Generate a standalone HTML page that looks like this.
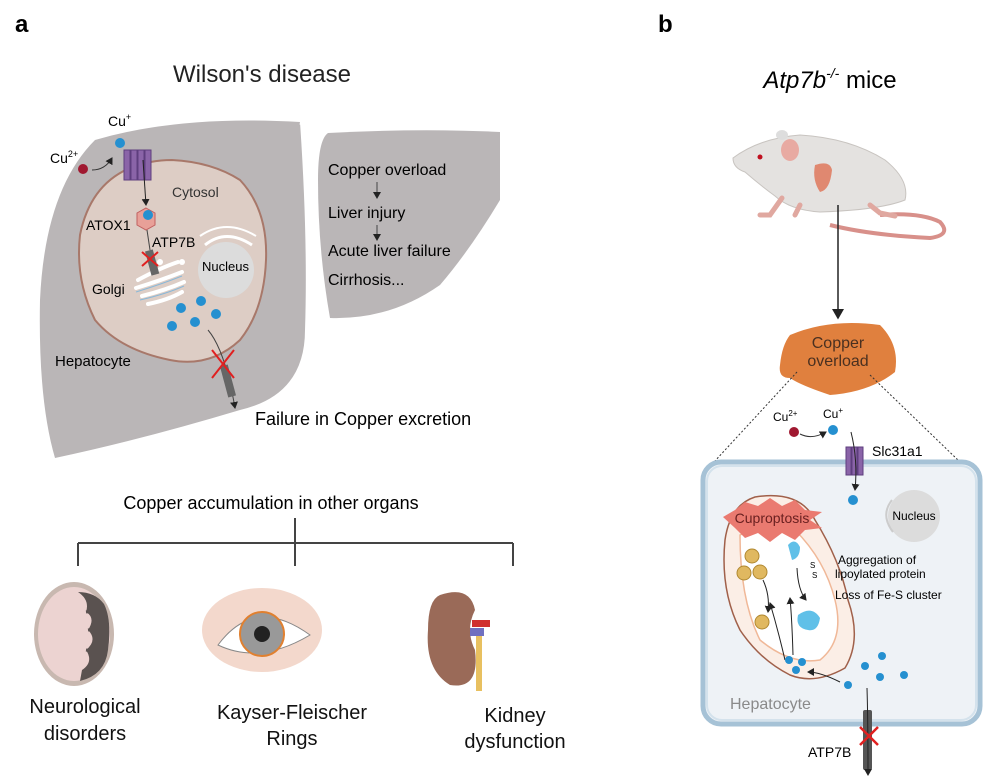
<!DOCTYPE html>
<html><head><meta charset="utf-8"><style>
html,body{margin:0;padding:0;background:#fff;}
svg{display:block;font-family:"Liberation Sans",sans-serif;}
</style></head><body>
<svg width="997" height="783" viewBox="0 0 997 783" xmlns="http://www.w3.org/2000/svg">
<defs>
<marker id="ah" markerWidth="8" markerHeight="8" refX="6" refY="4" orient="auto"><path d="M0,0 L7,4 L0,8 Z" fill="#222"/></marker>
</defs>
<text x="15" y="32" font-size="24" font-weight="bold">a</text>
<text x="658" y="32" font-size="24" font-weight="bold">b</text>
<text x="262" y="82" font-size="24" text-anchor="middle" fill="#222">Wilson's disease</text>

<path d="M95,140 Q180,115 300,122 Q308,240 305,330 Q305,395 240,410 Q140,440 55,458 Q38,400 40,300 Q45,190 95,140 Z" fill="#bab6b7"/>
<path d="M328,133 Q420,128 500,132 L500,200 Q470,250 440,285 Q390,320 330,318 Q318,250 318,180 Q318,140 328,133 Z" fill="#bab6b7"/>
<path d="M300,122 Q315,125 315,150 Q312,260 322,355" stroke="#fff" stroke-width="5" fill="none"/>

<path d="M172,160 Q212,162 240,180 Q268,210 266,260 Q264,310 240,340 Q210,368 170,360 Q120,350 95,320 Q75,280 80,235 Q90,185 130,168 Q150,160 172,160 Z" fill="#ddcdc5" stroke="#a8786a" stroke-width="2"/>
<circle cx="226" cy="270" r="28" fill="#dcdcdc"/>
<path d="M205,245 Q226,228 252,245" stroke="#fff" stroke-width="3" fill="none"/>
<path d="M200,236 Q226,218 256,236" stroke="#fff" stroke-width="2" fill="none"/>
<g stroke="#fff" stroke-width="4" fill="none" stroke-linecap="round">
<path d="M138,280 Q160,268 178,262"/><path d="M136,288 Q162,280 182,272"/><path d="M142,296 Q166,290 184,282"/><path d="M148,304 Q168,300 182,292"/>
</g>
<g stroke="#8ab8d8" stroke-width="1" fill="none"><path d="M136,292 Q162,284 182,276"/><path d="M140,300 Q166,294 184,286"/></g>
<circle cx="182" cy="262" r="3" fill="#fff"/><circle cx="160" cy="262" r="3" fill="#fff"/>
<rect x="148" y="250" width="8" height="25" fill="#666" transform="rotate(-15 152 262)"/>
<path d="M142,252 L158,266 M158,252 L142,266" stroke="#e02020" stroke-width="2"/>
<g fill="#8a64a8" stroke="#5e3e7e"><rect x="124" y="150" width="6" height="30"/><rect x="131" y="150" width="6" height="30"/><rect x="138" y="150" width="6" height="30"/><rect x="145" y="150" width="6" height="30"/></g>
<path d="M143,160 L146,205" stroke="#222" stroke-width="1" marker-end="url(#ah)"/>
<circle cx="120" cy="143" r="5" fill="#2590d0"/>
<circle cx="83" cy="169" r="5" fill="#a01830"/>
<path d="M92,170 Q105,170 112,158" stroke="#333" fill="none" marker-end="url(#ah)"/>
<text x="108" y="126" font-size="14">Cu<tspan dy="-6" font-size="9">+</tspan></text>
<text x="50" y="163" font-size="14">Cu<tspan dy="-6" font-size="9">2+</tspan></text>
<text x="172" y="197" font-size="14" fill="#333">Cytosol</text>
<path d="M146,208 L155,213 L155,225 L146,230 L137,225 L137,213 Z" fill="#e8a098" stroke="#c06060"/>
<circle cx="148" cy="215" r="5" fill="#2590d0"/>
<path d="M147,230 L150,250" stroke="#444"/>
<text x="86" y="230" font-size="14">ATOX1</text>
<text x="152" y="247" font-size="14">ATP7B</text>
<text x="202" y="271" font-size="13">Nucleus</text>
<text x="92" y="294" font-size="14">Golgi</text>
<g fill="#2590d0"><circle cx="181" cy="308" r="5"/><circle cx="201" cy="301" r="5"/><circle cx="216" cy="314" r="5"/><circle cx="172" cy="326" r="5"/><circle cx="195" cy="322" r="5"/></g>
<path d="M208,330 Q225,350 235,408" stroke="#444" fill="none" marker-end="url(#ah)"/>
<rect x="224" y="365" width="8" height="32" fill="#666" transform="rotate(-15 228 381)"/>
<path d="M212,350 L234,378 M234,350 L212,378" stroke="#e02020" stroke-width="2"/>
<text x="55" y="366" font-size="15">Hepatocyte</text>
<text x="328" y="175" font-size="16">Copper overload</text>
<path d="M377,182 L377,198" stroke="#444" marker-end="url(#ah)"/>
<text x="328" y="218" font-size="16">Liver injury</text>
<path d="M377,225 L377,240" stroke="#444" marker-end="url(#ah)"/>
<text x="328" y="256" font-size="16">Acute liver failure</text>
<text x="328" y="285" font-size="16">Cirrhosis...</text>
<text x="255" y="425" font-size="18">Failure in Copper excretion</text>

<text x="271" y="509" font-size="18" text-anchor="middle">Copper accumulation in other organs</text>
<g stroke="#444" stroke-width="2" fill="none"><path d="M295,518 V543 M78,543 H513 M78,543 V566 M295,543 V566 M513,543 V566"/></g>
<!-- brain -->
<ellipse cx="74" cy="634" rx="40" ry="52" fill="#c8b8b0"/>
<ellipse cx="74" cy="634" rx="36" ry="47" fill="#ecd3d1"/>
<path d="M78,592 Q90,600 86,612 Q96,618 88,630 Q98,640 86,650 Q94,662 82,670 L80,681 Q105,675 108,650 Q112,620 104,604 Q95,592 78,592 Z" fill="#5a5250"/>
<path d="M86,612 L100,610 M88,630 L104,628 M86,650 L100,652" stroke="#5a5250" stroke-width="3"/>
<!-- eye -->
<ellipse cx="262" cy="630" rx="60" ry="42" fill="#f3d8cc"/>
<path d="M218,645 Q255,595 310,635 Q260,665 218,645 Z" fill="#fff" stroke="#888"/>
<circle cx="262" cy="634" r="22" fill="#999" stroke="#e08030" stroke-width="2"/>
<circle cx="262" cy="634" r="8" fill="#222"/>
<!-- kidney -->
<path d="M440,595 Q470,585 475,610 Q465,630 475,650 Q480,690 450,685 Q425,670 428,630 Q428,600 440,595 Z" fill="#9a6a58"/>
<rect x="472" y="620" width="18" height="7" fill="#d03030"/>
<rect x="470" y="628" width="14" height="8" fill="#7070c0"/>
<rect x="476" y="636" width="6" height="55" fill="#e8c060"/>
<g font-size="20" text-anchor="middle" fill="#111">
<text x="85" y="713">Neurological</text><text x="85" y="740">disorders</text>
<text x="292" y="719">Kayser-Fleischer</text><text x="292" y="745">Rings</text>
<text x="515" y="722">Kidney</text><text x="515" y="748">dysfunction</text>
</g>

<!-- panel b -->
<text x="830" y="88" font-size="24" text-anchor="middle"><tspan font-style="italic">Atp7b</tspan><tspan font-size="14" dy="-10" font-style="italic">-/-</tspan><tspan dy="10"> mice</tspan></text>
<path d="M830,225 Q870,235 930,238 Q952,235 940,222 Q920,212 880,215" stroke="#d8908a" stroke-width="4" fill="none"/>
<path d="M733,158 Q760,138 800,135 Q850,138 885,160 Q910,180 905,200 Q880,210 820,212 Q790,210 775,196 Q760,185 745,172 Q733,168 733,158 Z" fill="#e4e2e0" stroke="#c8c4c0"/>
<ellipse cx="790" cy="150" rx="9" ry="11" fill="#e8aaa2"/>
<ellipse cx="782" cy="135" rx="6" ry="5" fill="#ddd"/>
<path d="M815,165 Q830,160 832,170 Q830,190 820,192 Q812,180 815,165 Z" fill="#e08870"/>
<circle cx="760" cy="157" r="2.5" fill="#c01020"/>
<path d="M782,198 L770,215 L760,215 M800,205 L795,215 M870,205 L880,213 L895,216" stroke="#e0a8a0" stroke-width="5" fill="none" stroke-linecap="round"/>
<path d="M838,205 L838,318" stroke="#222" stroke-width="1.5" marker-end="url(#ah)"/>
<path d="M790,335 Q830,318 880,325 Q900,345 895,372 Q870,392 830,395 Q800,385 790,378 Q778,378 780,365 Q782,345 790,335 Z" fill="#e0803e"/>
<text x="838" y="348" font-size="16" text-anchor="middle" fill="#4a3020">Copper</text>
<text x="838" y="366" font-size="16" text-anchor="middle" fill="#4a3020">overload</text>
<path d="M797,372 L714,462 M870,375 L960,462" stroke="#333" stroke-dasharray="2,2"/>
<rect x="703" y="462" width="277" height="262" rx="18" fill="#eef2f6" stroke="#a6c2d6" stroke-width="5"/>
<rect x="707" y="466" width="269" height="254" rx="15" fill="none" stroke="#d4e2ec" stroke-width="2"/>
<text x="773" y="421" font-size="12">Cu<tspan dy="-5" font-size="8">2+</tspan></text>
<text x="823" y="418" font-size="12">Cu<tspan dy="-5" font-size="8">+</tspan></text>
<circle cx="794" cy="432" r="5" fill="#a01830"/>
<circle cx="833" cy="430" r="5" fill="#2590d0"/>
<path d="M800,434 Q812,440 826,432" stroke="#333" fill="none" marker-end="url(#ah)"/>
<g fill="#8a64a8" stroke="#5e3e7e"><rect x="846" y="447" width="5" height="28"/><rect x="852" y="447" width="5" height="28"/><rect x="858" y="447" width="5" height="28"/></g>
<path d="M851,432 Q858,460 855,490" stroke="#222" fill="none" marker-end="url(#ah)"/>
<text x="872" y="456" font-size="14">Slc31a1</text>
<circle cx="853" cy="500" r="5" fill="#2590d0"/>
<circle cx="914" cy="516" r="26" fill="#dcdcdc"/>
<path d="M892,500 Q880,515 893,532" stroke="#ccc" stroke-width="2" fill="none"/>
<text x="914" y="520" font-size="12" text-anchor="middle">Nucleus</text>
<path d="M755,497 Q800,490 815,520 Q840,560 848,600 Q862,640 845,668 Q815,685 790,675 Q760,660 740,630 Q720,590 725,540 Q730,505 755,497 Z" fill="#fbeee6" stroke="#a0604a" stroke-width="1.5"/>
<path d="M740,535 Q760,525 795,530 Q825,560 835,600 Q845,640 820,660 Q790,665 760,640 Q740,600 740,535 Z" fill="#fff" stroke="#f0b898" stroke-width="1.5"/>
<path d="M723,517 L735,510 L745,502 L758,506 L770,498 L782,506 L795,500 L805,510 L822,512 L810,520 L822,528 L805,530 L795,540 L782,533 L770,542 L758,533 L745,538 L735,528 Z" fill="#ea7a70"/>
<text x="772" y="523" font-size="14" text-anchor="middle" fill="#6a2020">Cuproptosis</text>
<g fill="#e0b860" stroke="#b08830"><circle cx="752" cy="556" r="7"/><circle cx="760" cy="572" r="7"/><circle cx="744" cy="573" r="7"/><circle cx="762" cy="622" r="7"/></g>
<path d="M788,545 Q795,537 800,547 Q800,558 792,560 Z" fill="#60c0e8"/>
<path d="M798,615 Q812,605 820,618 Q818,632 808,630 Q795,628 798,615 Z" fill="#60c0e8"/>
<text x="810" y="568" font-size="8">S</text><text x="812" y="578" font-size="8">S</text>
<path d="M763,580 Q770,595 768,612" stroke="#222" fill="none" marker-end="url(#ah)"/>
<path d="M797,568 Q798,590 806,600" stroke="#222" fill="none" marker-end="url(#ah)"/>
<path d="M793,655 Q792,620 790,598" stroke="#222" fill="none" marker-end="url(#ah)"/>
<path d="M785,660 Q778,630 770,603" stroke="#222" fill="none" marker-end="url(#ah)"/>
<text x="838" y="564" font-size="12">Aggregation of</text>
<text x="835" y="578" font-size="12">lipoylated protein</text>
<text x="835" y="599" font-size="12">Loss of Fe-S cluster</text>
<g fill="#2590d0"><circle cx="789" cy="660" r="4"/><circle cx="802" cy="662" r="4"/><circle cx="796" cy="670" r="4"/><circle cx="848" cy="685" r="4"/><circle cx="865" cy="666" r="4"/><circle cx="882" cy="656" r="4"/><circle cx="880" cy="677" r="4"/><circle cx="904" cy="675" r="4"/></g>
<path d="M840,682 Q820,672 808,672" stroke="#222" fill="none" marker-end="url(#ah)"/>
<text x="730" y="709" font-size="16" fill="#8a8a8a">Hepatocyte</text>
<rect x="863" y="710" width="9" height="60" fill="#555" rx="2"/>
<path d="M867,688 Q868,720 868,775" stroke="#222" fill="none" marker-end="url(#ah)"/>
<path d="M860,727 L878,745 M878,727 L860,745" stroke="#e02020" stroke-width="2.5"/>
<text x="808" y="757" font-size="14">ATP7B</text>
</svg>
</body></html>
